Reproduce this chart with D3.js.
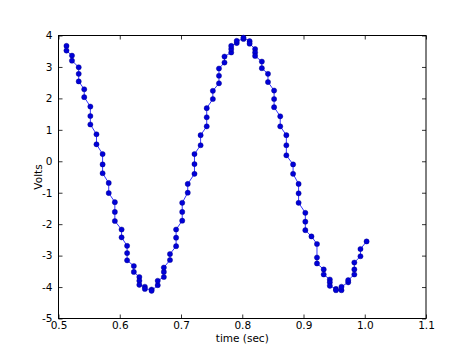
<!DOCTYPE html>
<meta charset="utf-8">
<style>
    body { margin: 0; background: #fff; }
    .axis text { font-family: "DejaVu Sans", sans-serif; font-size: 10.5px; fill: #000; }
    .axis path { display: none; }
    .axis line { stroke: #000; stroke-width: 0.8; }
    .lbl { font-family: "DejaVu Sans", sans-serif; font-size: 10.5px; fill: #000; }
</style>
<svg width="474" height="355"></svg>
<script src="https://d3js.org/d3.v7.min.js"></script>
<script>

// sample times (sec)
var times = [
    0.513, 0.513,
    0.522, 0.522,
    0.533, 0.533, 0.533,
    0.542, 0.542,
    0.552, 0.552, 0.552,
    0.562, 0.562,
    0.572, 0.572, 0.572,
    0.582, 0.582,
    0.592, 0.592, 0.592,
    0.603, 0.603,
    0.612, 0.612, 0.612,
    0.623, 0.623,
    0.632, 0.632, 0.632,
    0.641, 0.641,
    0.652, 0.652,
    0.662, 0.662,
    0.672, 0.672, 0.672,
    0.682, 0.682,
    0.692, 0.692, 0.692,
    0.702, 0.702, 0.702,
    0.711, 0.711,
    0.722, 0.722, 0.722,
    0.732, 0.732,
    0.742, 0.742, 0.742,
    0.752, 0.752,
    0.762, 0.762, 0.762,
    0.771, 0.771,
    0.782, 0.782, 0.782,
    0.791, 0.791,
    0.802, 0.802,
    0.812, 0.812,
    0.821, 0.821, 0.821,
    0.832, 0.832,
    0.842, 0.842,
    0.852, 0.852, 0.852,
    0.862, 0.862,
    0.872, 0.872, 0.872,
    0.883, 0.883,
    0.892, 0.892, 0.892,
    0.903, 0.903, 0.903,
    0.913,
    0.922, 0.922, 0.922,
    0.933, 0.933,
    0.943, 0.943, 0.943,
    0.953, 0.953,
    0.962, 0.962,
    0.973, 0.973,
    0.983, 0.983, 0.983,
    0.993, 0.993,
    1.003
];

var volts = [
    3.67, 3.52,
    3.36, 3.20,
    2.99, 2.78, 2.54,
    2.29, 2.04,
    1.74, 1.44, 1.17,
    0.86, 0.54,
    0.23, -0.10, -0.38,
    -0.69, -1.01,
    -1.30, -1.61, -1.90,
    -2.17, -2.42,
    -2.69, -2.92, -3.15,
    -3.33, -3.52,
    -3.68, -3.80, -3.93,
    -3.99, -4.06,
    -4.08, -4.12,
    -3.94, -3.80,
    -3.68, -3.52, -3.38,
    -3.14, -2.95,
    -2.70, -2.43, -2.17,
    -1.89, -1.61, -1.32,
    -1.00, -0.72,
    -0.40, -0.09, 0.23,
    0.51, 0.83,
    1.11, 1.40, 1.69,
    1.98, 2.24,
    2.48, 2.72, 2.95,
    3.14, 3.33,
    3.46, 3.57, 3.67,
    3.76, 3.83,
    3.89, 3.93,
    3.82, 3.74,
    3.57, 3.46, 3.35,
    3.17, 2.96,
    2.78, 2.52,
    2.25, 1.98, 1.72,
    1.43, 1.11,
    0.83, 0.51, 0.19,
    -0.10, -0.40,
    -0.72, -1.02, -1.32,
    -1.64, -1.92, -2.19,
    -2.39,
    -2.63, -3.06, -3.25,
    -3.44, -3.60,
    -3.76, -3.85, -3.96,
    -4.06, -4.10,
    -4.10, -3.99,
    -3.85, -3.78,
    -3.60, -3.44, -3.22,
    -3.02, -2.79,
    -2.55
];

var xTicks = [0.5, 0.6, 0.7, 0.8, 0.9, 1.0, 1.1];
var yTicks = [-5, -4, -3, -2, -1, 0, 1, 2, 3, 4];

var svg = d3.select("svg"),
    margin = {top: 35.5, right: 48, bottom: 36.5, left: 58.5},
    width = +svg.attr("width") - margin.left - margin.right,
    height = +svg.attr("height") - margin.top - margin.bottom;

var data = times.map(function(t, i) { return {t: t, v: volts[i]}; });

var x = d3.scaleLinear().domain([0.5, 1.1]).range([0, width]),
    y = d3.scaleLinear().domain([-5, 4]).range([height, 0]);

var g = svg.append("g")
    .attr("transform", "translate(" + margin.left + "," + margin.top + ")");

// ticks point inward on all four sides, labels only bottom/left
g.append("g")
    .attr("class", "axis")
    .attr("transform", "translate(0," + height + ")")
    .call(d3.axisBottom(x).tickValues(xTicks).tickSizeInner(-4).tickPadding(3).tickFormat(d3.format(".1f")));

g.append("g")
    .attr("class", "axis")
    .call(d3.axisTop(x).tickValues(xTicks).tickSizeInner(-4).tickFormat(""));

g.append("g")
    .attr("class", "axis")
    .call(d3.axisLeft(y).tickValues(yTicks).tickSizeInner(-4).tickPadding(6)
        .tickFormat(function(d) { return String(d); }));

g.append("g")
    .attr("class", "axis")
    .attr("transform", "translate(" + width + ",0)")
    .call(d3.axisRight(y).tickValues(yTicks).tickSizeInner(-4).tickFormat(""));

g.append("rect")
    .attr("width", width)
    .attr("height", height)
    .attr("fill", "none")
    .attr("stroke", "#000")
    .attr("stroke-width", 1);

var line = d3.line()
    .x(function(d) { return x(d.t); })
    .y(function(d) { return y(d.v); });

g.append("path")
    .datum(data)
    .attr("fill", "none")
    .attr("stroke", "#0000ff")
    .attr("stroke-width", 0.8)
    .attr("d", line);

g.selectAll(".dot")
    .data(data)
    .enter().append("circle")
    .attr("class", "dot")
    .attr("cx", function(d) { return x(d.t); })
    .attr("cy", function(d) { return y(d.v); })
    .attr("r", 2.6)
    .attr("fill", "#0000d8")
    .attr("stroke", "#000080")
    .attr("stroke-width", 0.4);

svg.append("text")
    .attr("class", "lbl")
    .attr("x", margin.left + width / 2)
    .attr("y", 342)
    .attr("text-anchor", "middle")
    .text("time (sec)");

svg.append("text")
    .attr("class", "lbl")
    .attr("transform", "translate(42," + (margin.top + height / 2) + ") rotate(-90)")
    .attr("text-anchor", "middle")
    .text("Volts");
</script>
